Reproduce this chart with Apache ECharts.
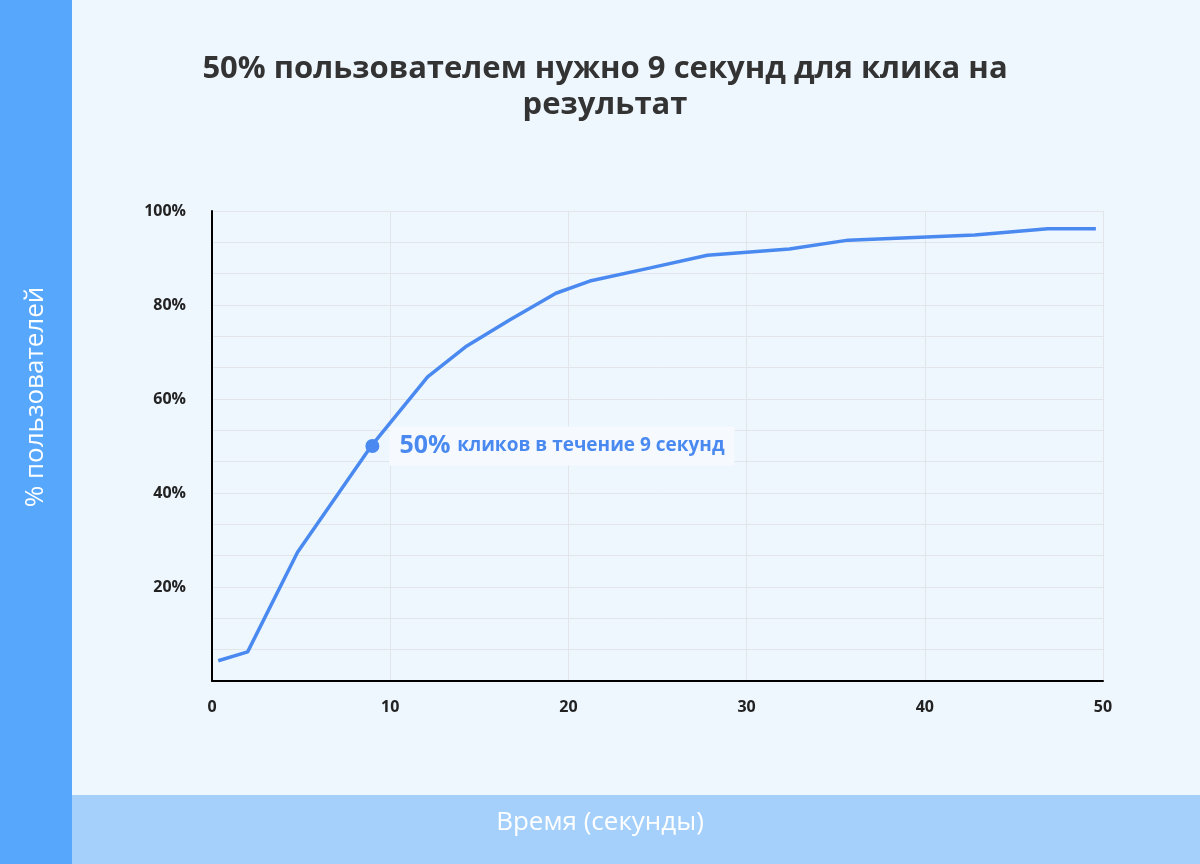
<!DOCTYPE html><html><head><meta charset="utf-8"><script src="https://cdn.jsdelivr.net/npm/echarts@6/dist/echarts.min.js"></script>
<style>body{margin:0;background:#eef6fe}#c{width:1200px;height:864px}</style></head><body><div id="c"></div><script>
const xSeconds=[0.35,2,4.8,8.9,12.1,14.3,16.7,19.3,21.2,24.6,27.8,32.4,35.7,42.8,46.9,49.6];
const yPercent=[4.3,6.2,27.4,49.8,64.7,71.3,76.8,82.5,85.1,87.9,90.6,91.9,93.8,94.9,96.2,96.2];
const highlight=[9,50];
const chart=echarts.init(document.getElementById('c'));
const F='"Open Sans", sans-serif';
chart.setOption({
backgroundColor:'#eef6fe',
graphic:[
{type:'rect',left:0,top:0,shape:{width:72,height:864},style:{fill:'#57a8fc'}},
{type:'rect',left:72,top:795,shape:{width:1128,height:69},style:{fill:'#a4d0fb'}},
{type:'text',left:'center',top:810,x:0,style:{text:'Время (секунды)',fill:'#ffffff',font:'26px '+F,x:636,textAlign:'center'}},
{type:'text',rotation:Math.PI/2,x:36,y:397,style:{text:'% пользователей',fill:'#ffffff',font:'26px '+F,textAlign:'center',textVerticalAlign:'middle'}}
],
title:{text:'50% пользователем нужно 9 секунд для клика на\nрезультат',left:600,textAlign:'center',top:46,textStyle:{fontFamily:F,fontWeight:'bold',fontSize:31,color:'#333333',lineHeight:36}},
grid:{left:212,right:97,top:211,bottom:183},
xAxis:{type:'value',min:0,max:50,interval:10,axisLine:{lineStyle:{color:'#000',width:2}},axisTick:{show:false},
axisLabel:{color:'#222',fontWeight:'bold',fontSize:16,fontFamily:F,margin:18},splitLine:{lineStyle:{color:'#e2e6ea'}}},
yAxis:{type:'value',min:0,max:100,interval:100/15,axisLine:{show:true,lineStyle:{color:'#000',width:2}},axisTick:{show:false},
axisLabel:{color:'#222',fontWeight:'bold',fontSize:16,fontFamily:F,margin:26,formatter:v=>{const r=Math.round(v);return (r%20===0&&r>0)?r+'%':'';}},
splitLine:{lineStyle:{color:'#e2e6ea'}}},
series:[
{type:'line',data:xSeconds.map((x,i)=>[x,yPercent[i]]),symbol:'none',lineStyle:{color:'#4a8af0',width:3.5},silent:true},
{type:'scatter',data:[highlight],symbolSize:14,itemStyle:{color:'#4a8af0',opacity:1},
label:{show:true,position:'right',distance:10,formatter:'{a|50%}  {b|кликов в течение 9 секунд}',backgroundColor:'#f6faff',padding:[7,10,7,10],
rich:{a:{fontSize:25,fontWeight:'bold',color:'#4a8af0',fontFamily:F},b:{fontSize:19,fontWeight:'bold',color:'#4a8af0',fontFamily:F}}}}
]});
</script></body></html>
